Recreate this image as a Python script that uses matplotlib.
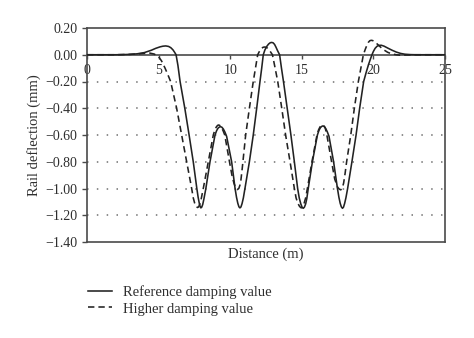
import matplotlib
matplotlib.use("Agg")
import matplotlib.pyplot as plt

plt.rcParams['font.family'] = ['Liberation Serif', 'DejaVu Serif']
plt.rcParams['axes.unicode_minus'] = True

# Rail deflection along the track (m, mm), reference damping
ref_x = [0.0, 1.0, 2.0, 2.5, 3.0, 3.5, 4.0, 4.5, 4.8, 5.1, 5.3, 5.5, 5.7,
         5.85, 6.0, 6.12, 6.22, 6.35, 6.5, 6.83, 7.13, 7.42, 7.67, 7.76,
         7.84, 7.9, 7.95, 8.01, 8.08, 8.17, 8.3, 8.59, 8.94, 9.05, 9.15,
         9.25, 9.33, 9.42, 9.52, 9.63, 9.75, 10.1, 10.34, 10.44, 10.53, 10.61,
         10.68, 10.75, 10.83, 10.92, 11.03, 11.34, 11.61, 11.85, 12.08, 12.2,
         12.31, 12.42, 12.55, 12.68, 12.8, 12.9, 13.0, 13.1, 13.2, 13.3,
         13.45, 13.58, 13.72, 13.98, 14.24, 14.48, 14.71, 14.82, 14.93, 15.02,
         15.1, 15.18, 15.27, 15.35, 15.45, 15.74, 16.09, 16.2, 16.3, 16.4,
         16.48, 16.57, 16.67, 16.78, 16.9, 17.22, 17.49, 17.59, 17.68, 17.76,
         17.84, 17.91, 17.99, 18.08, 18.2, 18.5, 18.79, 19.04, 19.32, 19.5,
         19.67, 19.8, 19.9, 20.0, 20.12, 20.25, 20.38, 20.55, 20.75, 21.0,
         21.3, 21.6, 21.9, 22.2, 22.6, 23.0, 25.0]
ref_y = [0.0, 0.0, 0.0, 0.001, 0.003, 0.007, 0.016, 0.034, 0.048, 0.059,
         0.064, 0.066, 0.062, 0.053, 0.037, 0.018, 0.0, -0.08, -0.2, -0.4,
         -0.6, -0.8, -1.0, -1.065, -1.11, -1.135, -1.145, -1.14, -1.12,
         -1.075, -1.0, -0.8, -0.6, -0.568, -0.549, -0.54, -0.538, -0.542,
         -0.555, -0.578, -0.61, -0.8, -1.0, -1.065, -1.11, -1.137, -1.145,
         -1.138, -1.112, -1.07, -1.0, -0.8, -0.6, -0.4, -0.2, -0.1, 0.0,
         0.035, 0.062, 0.08, 0.09, 0.092, 0.089, 0.077, 0.056, 0.032, 0.0,
         -0.1, -0.2, -0.4, -0.6, -0.8, -1.0, -1.07, -1.115, -1.14, -1.148,
         -1.14, -1.115, -1.075, -1.0, -0.8, -0.6, -0.565, -0.545, -0.535,
         -0.532, -0.537, -0.552, -0.576, -0.61, -0.8, -1.0, -1.065, -1.11,
         -1.137, -1.148, -1.14, -1.112, -1.07, -1.0, -0.8, -0.6, -0.4, -0.2,
         -0.13, -0.07, -0.03, 0.0, 0.025, 0.048, 0.063, 0.07, 0.071, 0.064,
         0.05, 0.034, 0.02, 0.01, 0.004, 0.001, 0.0, 0.0]

# Rail deflection along the track (m, mm), higher damping
high_x = [0.0, 1.0, 2.0, 3.0, 3.5, 4.0, 4.4, 4.7, 5.0, 5.2, 5.45, 5.65, 5.84,
          6.26, 6.61, 6.96, 7.31, 7.42, 7.52, 7.62, 7.72, 7.8, 7.88, 7.98,
          8.12, 8.47, 8.82, 8.93, 9.03, 9.12, 9.2, 9.29, 9.39, 9.5, 9.62,
          9.95, 10.12, 10.26, 10.38, 10.5, 10.6, 10.68, 10.75, 10.84, 11.08,
          11.34, 11.61, 11.92, 12.05, 12.18, 12.3, 12.42, 12.55, 12.68, 12.8,
          12.95, 13.1, 13.32, 13.6, 13.87, 14.18, 14.48, 14.6, 14.72, 14.85,
          14.96, 15.05, 15.15, 15.27, 15.39, 15.71, 16.06, 16.17, 16.27, 16.36,
          16.44, 16.53, 16.63, 16.75, 17.08, 17.3, 17.5, 17.62, 17.72, 17.82,
          17.92, 18.02, 18.13, 18.42, 18.67, 18.95, 19.3, 19.43, 19.55, 19.65,
          19.75, 19.85, 19.95, 20.05, 20.2, 20.34, 20.55, 20.75, 21.0, 21.3,
          21.6, 21.9, 22.3, 23.0, 25.0]
high_y = [0.0, 0.0, 0.0, 0.003, 0.006, 0.01, 0.012, 0.005, -0.015, -0.045,
          -0.1, -0.15, -0.2, -0.4, -0.6, -0.8, -1.0, -1.07, -1.11, -1.135,
          -1.142, -1.137, -1.115, -1.075, -1.0, -0.8, -0.6, -0.562, -0.54,
          -0.528, -0.525, -0.53, -0.545, -0.567, -0.6, -0.8, -0.9, -0.96,
          -0.995, -1.008, -1.0, -0.975, -0.935, -0.85, -0.6, -0.4, -0.2, 0.0,
          0.027, 0.047, 0.056, 0.058, 0.054, 0.04, 0.024, 0.0, -0.08, -0.2,
          -0.4, -0.6, -0.8, -1.0, -1.07, -1.11, -1.135, -1.145, -1.14, -1.115,
          -1.07, -1.0, -0.8, -0.6, -0.562, -0.54, -0.528, -0.525, -0.53,
          -0.545, -0.6, -0.8, -0.93, -0.99, -1.005, -1.01, -1.0, -0.96, -0.89,
          -0.8, -0.6, -0.4, -0.2, 0.0, 0.04, 0.072, 0.093, 0.105, 0.108,
          0.106, 0.1, 0.087, 0.073, 0.052, 0.035, 0.018, 0.006, 0.0, -0.004,
          -0.002, 0.0, 0.0]

x_ticks = [0, 5, 10, 15, 20, 25]
y_ticks = [0.20, 0.00, -0.20, -0.40, -0.60, -0.80, -1.00, -1.20, -1.40]
grid_levels = [-0.20, -0.40, -0.60, -0.80, -1.00, -1.20]

ink = '#222222'
frame = '#4a4a4a'
text_col = '#2e2e2e'

fig = plt.figure(figsize=(4.74, 3.38), dpi=100)
ax = fig.add_axes([87 / 474, 1 - 242 / 338, 358 / 474, 214 / 338])

for g in grid_levels:
    ax.axhline(g, color='#7a7a7a', lw=1.2, linestyle=(0, (0.9, 5)), zorder=1)

l1, = ax.plot(ref_x, ref_y, color=ink, lw=1.15, zorder=3,
              label='Reference damping value')
l2, = ax.plot(high_x, high_y, color=ink, lw=1.15, linestyle=(0, (4, 2.5)),
              zorder=3, label='Higher damping value')

ax.set_xlim(0, 25)
ax.set_ylim(-1.40, 0.20)

# x axis runs along the zero line; the box is closed at the bottom edge
ax.spines['bottom'].set_position(('data', 0.0))
for s in ax.spines.values():
    s.set_color(frame)
    s.set_linewidth(1.2)
ax.axhline(-1.40, color=frame, lw=1.2, clip_on=False, zorder=4)

ax.set_xticks(x_ticks)
ax.set_xticklabels([str(v) for v in x_ticks])
ax.set_yticks(y_ticks)
ax.set_yticklabels([f"{v:.2f}".replace('-', '\u2212') for v in y_ticks])
ax.tick_params(axis='x', direction='out', length=3, width=1.0, color=frame,
               pad=4, labelsize=10, labelcolor=text_col)
ax.tick_params(axis='y', direction='out', length=3.5, width=1.0, color=frame,
               pad=3.5, labelsize=10, labelcolor=text_col)

ax.set_ylabel('Rail deflection (mm)', fontsize=10.5, color=text_col,
              labelpad=3)
fig.text(266 / 474, 1 - 254 / 338, 'Distance (m)', ha='center', va='center',
         fontsize=10.5, color=text_col)

fig.legend(handles=[l1, l2], loc='upper left',
           bbox_to_anchor=(76 / 474, 1 - 274 / 338), frameon=False,
           fontsize=10.5, handlelength=1.7, handletextpad=0.7,
           labelspacing=0.2, borderpad=0.3, labelcolor=text_col)

fig.savefig('out.png', dpi=100, facecolor='white')
